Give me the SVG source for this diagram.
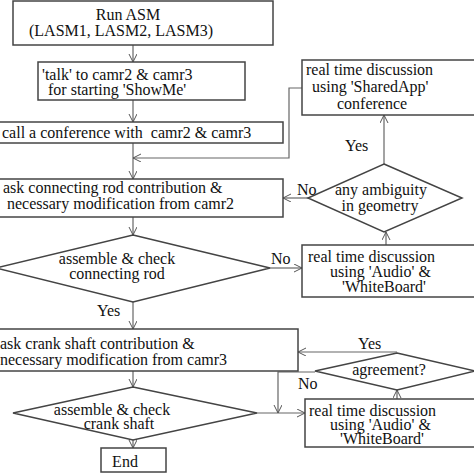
<svg xmlns="http://www.w3.org/2000/svg" width="474" height="474" viewBox="0 0 474 474">
<defs>
<marker id="ah" markerWidth="10" markerHeight="10" refX="8" refY="4" orient="auto" markerUnits="userSpaceOnUse">
<path d="M0,0 L8,4 L0,8" fill="none" stroke="#555" stroke-width="1"/>
</marker>
<style>
.b{fill:#fff;stroke:#444;stroke-width:1.5}
.c{fill:none;stroke:#666;stroke-width:1.2}
.a{marker-end:url(#ah)}
text{font-family:"Liberation Serif","Times New Roman",serif;font-size:16px;fill:#111}
.m{text-anchor:middle}
.s{font-size:15px}
</style>
</defs>
<rect width="474" height="474" fill="#fff"/>
<g id="connectors">
<path class="c a" d="M133,45 V62"/>
<path class="c a" d="M133,100 V122"/>
<path class="c a" d="M133,143 V179"/>
<path class="c a" d="M302,88 H289 V158 H133"/>
<path class="c a" d="M308,198 H283"/>
<path class="c a" d="M384,164 V115"/>
<path class="c a" d="M133,217 V235"/>
<path class="c a" d="M270,268 H302"/>
<path class="c a" d="M386,245 V232"/>
<path class="c a" d="M133,302 V329"/>
<path class="c a" d="M133,371 V387"/>
<path class="c a" d="M133,440 V448"/>
<path class="c a" d="M257,413 H305"/>
<path class="c a" d="M397,399 V390"/>
<path class="c a" d="M397,352 H298"/>
<path class="c a" d="M315,372 H278 V413"/>
<text x="345" y="151">Yes</text>
<text x="297" y="195">No</text>
<text x="271" y="264">No</text>
<text x="97" y="316">Yes</text>
<text x="358" y="349">Yes</text>
<text x="298" y="389">No</text>
</g>
<g id="run-asm">
<rect class="b" x="13" y="1" width="260" height="44"/>
<text class="m" x="128" y="20">Run ASM</text>
<text class="m" x="121" y="36">(LASM1, LASM2, LASM3)</text>
</g>
<g id="talk">
<rect class="b" x="38" y="62" width="207" height="38"/>
<text x="42" y="80">'talk' to camr2 &amp; camr3</text>
<text x="48" y="95">for starting 'ShowMe'</text>
</g>
<g id="call-conference">
<rect class="b" x="-2" y="122" width="285" height="21"/>
<text x="2" y="138" xml:space="preserve">call a conference with  camr2 &amp; camr3</text>
</g>
<g id="ask-rod">
<rect class="b" x="-2" y="179" width="285" height="38"/>
<text x="3" y="193">ask connecting rod contribution &amp;</text>
<text x="7" y="209">necessary modification from camr2</text>
</g>
<g id="check-rod">
<polygon class="b" points="133,235 270,268 133,302 -4,268"/>
<text class="m" x="117" y="264">assemble &amp; check</text>
<text class="m" x="117" y="279">connecting rod</text>
</g>
<g id="ask-crank">
<rect class="b" x="-2" y="329" width="300" height="42"/>
<text x="0" y="349">ask crank shaft contribution &amp;</text>
<text x="0" y="365">necessary modification from camr3</text>
</g>
<g id="check-crank">
<polygon class="b" points="133,387 257,413 133,440 13,413"/>
<text class="m" x="112" y="415">assemble &amp; check</text>
<text class="m" x="119" y="429">crank shaft</text>
</g>
<g id="end">
<rect class="b" x="101" y="448" width="65" height="24"/>
<text class="m" x="125" y="467">End</text>
</g>
<g id="sharedapp">
<rect class="b" x="302" y="60" width="173" height="55"/>
<text x="306" y="75">real time discussion</text>
<text x="312" y="92">using 'SharedApp'</text>
<text x="337" y="109">conference</text>
</g>
<g id="ambiguity">
<polygon class="b" points="384,164 462,198 384,232 308,198"/>
<text class="m" x="381" y="195">any ambiguity</text>
<text class="m" x="380" y="211">in geometry</text>
</g>
<g id="audio1">
<rect class="b" x="302" y="245" width="173" height="52"/>
<text x="308" y="262">real time discussion</text>
<text x="330" y="277">using 'Audio' &amp;</text>
<text x="342" y="292">'WhiteBoard'</text>
</g>
<g id="agreement">
<polygon class="b" points="397,353 475,371 397,390 315,371"/>
<text class="m" x="389" y="375">agreement?</text>
</g>
<g id="audio2">
<rect class="b" x="305" y="399" width="170" height="48"/>
<text x="309" y="416">real time discussion</text>
<text x="330" y="430">using 'Audio' &amp;</text>
<text x="340" y="444">'WhiteBoard'</text>
</g>
</svg>
